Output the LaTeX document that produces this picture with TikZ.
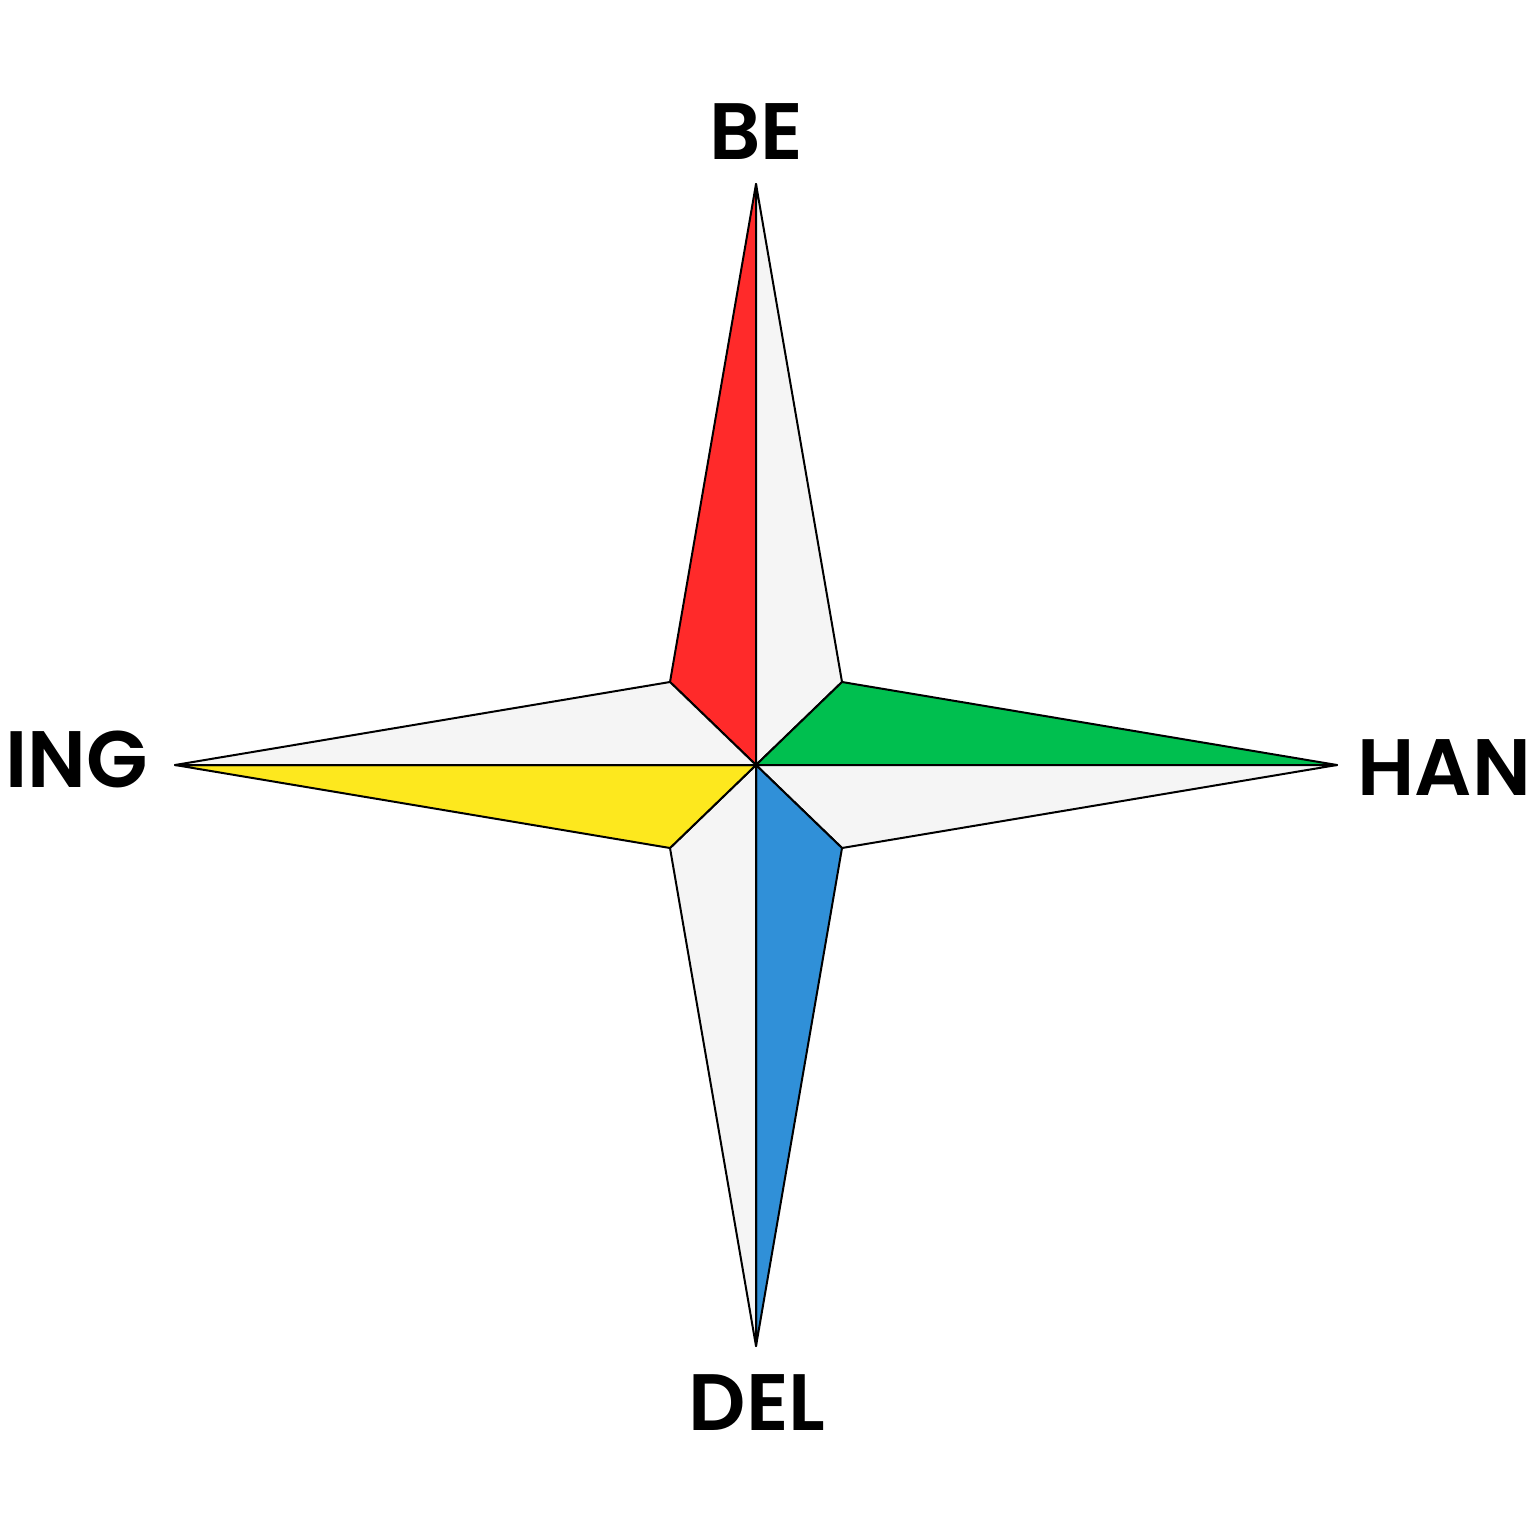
\documentclass[tikz,border=0pt]{standalone}
\usepackage{fontspec}
\setmainfont{Poppins}[BoldFont={Poppins SemiBold}]
\usepackage{xcolor}
\definecolor{starred}{HTML}{FF2A2A}
\definecolor{stargreen}{HTML}{00BF4F}
\definecolor{staryellow}{HTML}{FDE81E}
\definecolor{starblue}{HTML}{3090D8}
\definecolor{stargrey}{HTML}{F5F5F5}
\begin{document}
\begin{tikzpicture}[x=0.5pt,y=0.5pt,yscale=-1,xscale=1,
    facet/.style={draw=black, line width=1pt, line join=round},
    dirlabel/.style={font=\fontsize{40}{40}\selectfont\bfseries, inner sep=0pt}]
    %set diagram to the full 1536 x 1536 square
    \path[use as bounding box, fill=white] (0,0) rectangle (1536,1536);

    %Star points
    \coordinate (c) at (756,765);
    \coordinate (north) at (756,184);
    \coordinate (south) at (756,1346);
    \coordinate (west) at (175,765);
    \coordinate (east) at (1337,765);
    \coordinate (nw) at (670,682);
    \coordinate (ne) at (842,682);
    \coordinate (se) at (842,848);
    \coordinate (sw) at (670,848);

    %Top arm
    \draw [facet, fill=starred] (c) -- (nw) -- (north) -- cycle;
    \draw [facet, fill=stargrey] (c) -- (north) -- (ne) -- cycle;
    %Right arm
    \draw [facet, fill=stargreen] (c) -- (ne) -- (east) -- cycle;
    \draw [facet, fill=stargrey] (c) -- (east) -- (se) -- cycle;
    %Bottom arm
    \draw [facet, fill=starblue] (c) -- (se) -- (south) -- cycle;
    \draw [facet, fill=stargrey] (c) -- (south) -- (sw) -- cycle;
    %Left arm
    \draw [facet, fill=staryellow] (c) -- (sw) -- (west) -- cycle;
    \draw [facet, fill=stargrey] (c) -- (west) -- (nw) -- cycle;

    % Text Node
    \node (be) [dirlabel, anchor=base] at (756,160) {BE};
    % Text Node
    \node (del) [dirlabel, anchor=base] at (757,1430) {DEL};
    % Text Node
    \node (ing) [dirlabel, anchor=base west] at (5,787) {ING};
    % Text Node
    \node (han) [dirlabel, anchor=base west] at (1357,795) {HAN};
\end{tikzpicture}
\end{document}
